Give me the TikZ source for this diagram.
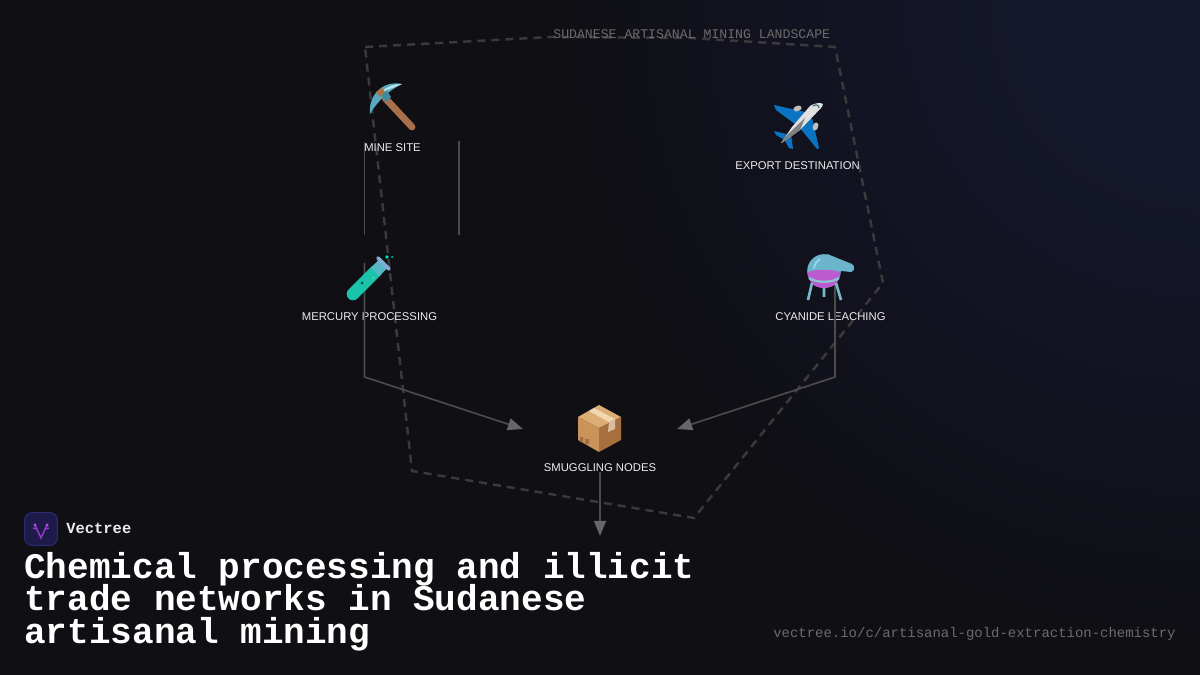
\documentclass[tikz,border=0pt]{standalone}
\usepackage{fontspec}
\setmainfont{Liberation Sans}
\setmonofont{Liberation Mono}
\usetikzlibrary{positioning, arrows.meta}
\definecolor{mybg}{HTML}{0F0F14}
\definecolor{myglow}{HTML}{15172C}
\definecolor{myhull}{HTML}{3A3A3C}
\definecolor{mylink}{HTML}{4B4B4D}
\definecolor{mytip}{HTML}{666666}
\definecolor{mylabel}{HTML}{EDEDED}
\definecolor{mygray}{HTML}{6C6C6C}
\definecolor{mywing}{RGB}{11,116,194}
\pgfdeclareradialshading{bgglow}{\pgfpoint{0bp}{0bp}}{color(0bp)=(myglow); color(7bp)=(myglow); color(25bp)=(mybg); color(50bp)=(mybg)}
\setlength{\lineskiplimit}{-30pt}

\begin{document}
\begin{tikzpicture}[
x=0.02cm, y=-0.02cm,
hull/.style={draw=myhull, line width=1.4pt, dash pattern=on 4.6pt off 3.4pt},
link/.style={draw=mylink, line width=0.95pt},
arrow/.style={link, -{Triangle[length=8.6pt, width=6.8pt, color=mytip]}},
caption/.style={inner sep=0pt, text=mylabel, font=\fontsize{6.42}{8}\selectfont},
headline/.style={inner sep=0pt, align=left, text=white, font=\fontsize{20.5}{18.45}\selectfont\ttfamily\bfseries},
mono/.style={inner sep=0pt, text=mygray, font=\fontsize{#1}{9}\selectfont\ttfamily}
]

% Background
\fill[mybg] (0,0) rectangle (1200,675);
\begin{scope}
\clip (0,0) rectangle (1200,675);
\shade[shading=bgglow] (1200,0) circle (640);
\end{scope}
\useasboundingbox (0,0) rectangle (1200,675);

% Landscape outline
\coordinate (hulla) at (365,47);
\coordinate (hullb) at (550,37);
\coordinate (hullc) at (690,38);
\coordinate (hulld) at (835,47);
\coordinate (hulle) at (883,283);
\coordinate (hullf) at (694,518);
\coordinate (hullg) at (412,471);
\draw[hull] (hulla) -- (hullb) -- (hullc) -- (hulld) -- (hulle) -- (hullf) -- (hullg) -- cycle;
\node[mono=7.5, anchor=base west] (landscape) at (553,39) {SUDANESE ARTISANAL MINING LANDSCAPE};

% Labels
\node[caption] (mine) at (392.5,148) {MINE SITE};
\node[caption] (export) at (797.5,166) {EXPORT DESTINATION};
\node[caption] (mercury) at (369.5,317) {MERCURY PROCESSING};
\node[caption] (cyanide) at (830.5,317) {CYANIDE LEACHING};
\node[caption] (smuggling) at (600,468) {SMUGGLING NODES};

% Connectors
\coordinate (minea) at (364.5,142);
\coordinate (mineb) at (364.5,235);
\coordinate (minec) at (459,141);
\coordinate (mined) at (459,235);
\coordinate (mercurya) at (364.5,263);
\coordinate (bendl) at (364.5,377);
\coordinate (smugl) at (523,429);
\coordinate (cyanidea) at (835,285);
\coordinate (bendr) at (835,377);
\coordinate (smugr) at (677,429);
\coordinate (dropoff) at (600,536);
\draw[link] (minea) -- (mineb);
\draw[link] (minec) -- (mined);
\draw[arrow] (mercurya) -- (bendl) -- (smugl);
\draw[arrow] (cyanidea) -- (bendr) -- (smugr);
\draw[arrow] (smuggling.south) -- (dropoff);

% Pickaxe
\draw[line width=3.9pt, line cap=round, color={rgb,255:red,168;green,112;blue,74}] (385,98) -- (412,127);
\fill[color={rgb,255:red,88;green,168;blue,192}] (370,114) .. controls (368,96) and (382,80) .. (402,84) .. controls (390,90) and (378,100) .. (370,114) -- cycle;
\fill[color={rgb,255:red,190;green,226;blue,236}] (402,84) .. controls (393,84) and (386,87) .. (381,92) .. controls (388,90) and (395,87) .. (402,84) -- cycle;
\fill[color={rgb,255:red,176;green,112;blue,66}] (376,92) -- (382,88) -- (385,92) -- (380,97) -- cycle;
\fill[color={rgb,255:red,62;green,140;blue,162}] (381,95) -- (387,91) -- (391,97) -- (386,102) -- cycle;

% Plane
\fill[mywing] (774,105) -- (805,112) -- (795,124) -- (776,110) -- cycle;
\fill[mywing] (812,118) -- (819,148) -- (817,149) -- (800,128) -- cycle;
\fill[mywing] (774,131) -- (790,135) -- (783,139) -- (776,135) -- cycle;
\fill[mywing] (791,134) -- (793,149) -- (789,148) -- (785,141) -- cycle;
\draw[line width=2.8pt, line cap=round, color=black!25] (796,109) -- (799,108);
\draw[line width=2.8pt, line cap=round, color=black!25] (815,128) -- (816,125);
\fill[color=black!12] (820,103) .. controls (824,103) and (823,106) .. (821,108) -- (800,130) -- (783,142) -- (781,143) -- (792,127) -- (810,106) .. controls (813,104) and (817,103) .. (820,103) -- cycle;
\fill[color=black!50] (781,143) -- (785,137) -- (805,118) -- (800,130) -- (783,142) -- cycle;
\draw[line width=0.7pt, color={rgb,255:red,70;green,110;blue,130}] (813,106) .. controls (816,104) and (819,105) .. (819,108);

% Test tube
\draw[line width=7.2pt, line cap=round, color={rgb,255:red,26;green,196;blue,170}] (353,294) -- (376,271);
\draw[line width=6.8pt, color={rgb,255:red,84;green,184;blue,196}] (375,272) -- (383,264);
\draw[line width=2.2pt, line cap=round, color={rgb,255:red,130;green,172;blue,214}] (378,258) -- (389,269);
\fill[color=white!60!teal] (373,278) circle (1);
\fill[color=black!40!teal] (362,283) circle (1.5);
\fill[color={rgb,255:red,0;green,224;blue,190}] (387,257) circle (1.9) (392,257) circle (1);

% Flask
\fill[color={rgb,255:red,108;green,180;blue,204}] (827,254) -- (852,264) .. controls (855,266) and (855,271) .. (851,272) -- (832,270) -- cycle;
\fill[color={rgb,255:red,108;green,180;blue,204}] (824,271) circle (16.8);
\fill[color={rgb,255:red,188;green,90;blue,208}] (808,272) .. controls (815,269) and (832,269) .. (840,272) .. controls (840,282) and (834,288) .. (824,288) .. controls (814,288) and (808,282) .. (808,272) -- cycle;
\draw[line width=1.5pt, color={rgb,255:red,120;green,185;blue,205}] (812,283) -- (808,300) (824,288) -- (824,297) (836,283) -- (841,300);
\draw[line width=1.3pt, color={rgb,255:red,140;green,195;blue,205}] (809,278) .. controls (816,283) and (832,283) .. (839,278);
\draw[line width=1pt, line cap=round, color=white!55!cyan] (814,268) .. controls (815,263) and (817,261) .. (820,259);

% Box
\fill[color={rgb,255:red,220;green,174;blue,117}] (599,405) -- (621,417) -- (599,428) -- (578,417) -- cycle;
\fill[color={rgb,255:red,201;green,147;blue,90}] (578,417) -- (599,428) -- (599,452) -- (578,440) -- cycle;
\fill[color={rgb,255:red,167;green,111;blue,62}] (621,417) -- (599,428) -- (599,452) -- (621,440) -- cycle;
\fill[color={rgb,255:red,240;green,217;blue,176}] (589,411) -- (594,408) -- (615,419) -- (609,422) -- cycle;
\fill[color={rgb,255:red,216;green,190;blue,160}] (609,422) -- (615,419) -- (615,429) -- (608,432) -- cycle;
\fill[color={rgb,255:red,160;green,112;blue,70}] (580,437) rectangle (583,442) (585,439) rectangle (589,444);

% Logo
\node[draw={rgb,255:red,44;green,42;blue,106}, fill={rgb,255:red,30;green,27;blue,75}, line width=0.6pt, rounded corners=4.5pt, minimum size=0.66cm, inner sep=0pt] (logo) at (41,529) {};
\draw[line width=0.8pt, color={rgb,255:red,150;green,60;blue,200}] (35,525) -- (41,538) -- (47,525) (33,528) -- (37,529) (49,528) -- (45,529);
\fill[color={rgb,255:red,180;green,80;blue,220}] (35,525) circle (1.6) (47,525) circle (1.6);
\node[anchor=base west, inner sep=0pt, text=black!8, font=\fontsize{8.8}{11}\selectfont\ttfamily\bfseries] (brand) at (66,533) {Vectree};

% Title
\node[headline, anchor=north west] (title) at (24,552) {Chemical processing and illicit\\trade networks in Sudanese\\artisanal mining};
\node[mono=7.95, anchor=base east] (source) at (1176,637) {vectree.io/c/artisanal-gold-extraction-chemistry};

\end{tikzpicture}
\end{document}
